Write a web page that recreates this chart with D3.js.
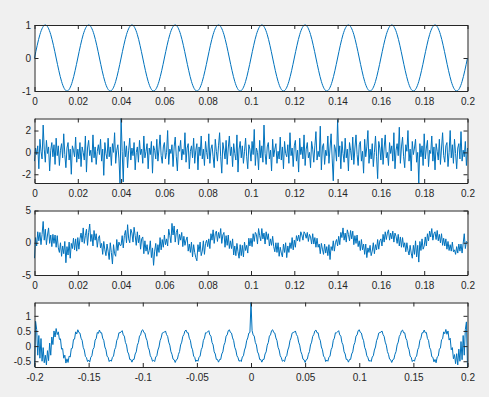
<!DOCTYPE html>
<html><head><meta charset="utf-8">
<script src="https://cdn.jsdelivr.net/npm/d3@7"></script>
<style>
html,body{margin:0;padding:0;background:#f0f0f0;}
svg{display:block;}
text{font-family:"Liberation Sans",Arial,Helvetica,sans-serif;font-size:10px;fill:#262626;}
</style></head>
<body><svg id="c" width="489" height="397"></svg>
<script>
// ---- data ----
const timeTicks = [0,0.02,0.04,0.06,0.08,0.1,0.12,0.14,0.16,0.18,0.2];
const lagTicks = [-0.2,-0.15,-0.1,-0.05,0,0.05,0.1,0.15,0.2];
const sineTicks = [-1,0,1];
const noiseTicks = [-2,0,2];
const noisySineTicks = [-5,0,5];
const acfTicks = [-0.5,0,0.5,1];

const sineStep = 0.0025;
const sineValues = [
0,0.71,1,0.71,0,-0.71,-1,-0.71, 0,0.71,1,0.71,0,-0.71,-1,-0.71,
0,0.71,1,0.71,0,-0.71,-1,-0.71, 0,0.71,1,0.71,0,-0.71,-1,-0.71,
0,0.71,1,0.71,0,-0.71,-1,-0.71, 0,0.71,1,0.71,0,-0.71,-1,-0.71,
0,0.71,1,0.71,0,-0.71,-1,-0.71, 0,0.71,1,0.71,0,-0.71,-1,-0.71,
0,0.71,1,0.71,0,-0.71,-1,-0.71, 0,0.71,1,0.71,0,-0.71,-1,-0.71,
0];

const sampleStep = 0.0005;
const noiseValues = [
-0.8,0.4,-0.2,0.6,-1.5,1.2,0.1,-0.6,2.5,0.3,-0.9,1.1,-0.1,0.5,-1.7,0.2,0.9,-0.4,0.7,-1.1,
1.3,-0.3,0.6,-1.2,0.2,0.8,-0.5,1.7,-0.2,-1.4,0.4,0.9,-0.7,0.3,-2.0,0.6,0.2,-0.4,1.4,-0.9,
0.3,-0.6,0.9,-1.3,0.5,0.0,-0.7,1.5,-1.8,0.4,1.1,-0.3,0.2,-0.9,1.6,-0.5,0.5,-1.1,0.1,0.7,
-0.2,1.2,-0.8,0.3,-2.1,0.9,-0.1,-0.6,1.3,-0.4,0.5,-1.2,0.8,0.0,1.8,-1.0,0.2,0.7,-0.6,-2.8,
3.1,0.1,-2.7,1.0,-0.4,0.6,-1.4,0.2,1.3,-0.7,0.4,-0.3,0.9,-1.6,0.0,0.5,-0.9,1.1,-0.2,0.3,
-1.0,1.5,-0.5,0.1,0.8,-1.5,0.4,-0.2,1.0,-1.9,0.6,0.2,-0.6,1.2,-0.8,0.3,1.6,-0.3,-1.0,0.5,
0.9,-0.6,0.0,2.0,-1.1,0.3,-0.1,0.7,-1.3,0.5,1.4,-0.4,-1.7,0.6,0.1,1.1,-0.7,0.3,-0.2,1.8,
-0.9,0.4,0.8,-1.5,0.1,0.6,-0.5,1.3,-1.0,0.2,0.8,-1.6,0.5,-0.3,1.5,-0.6,0.3,-1.2,1.0,0.0,
-0.6,1.7,-1.0,0.3,0.7,-0.4,-1.4,1.2,0.1,-0.8,0.6,1.8,-0.4,-1.9,0.9,0.2,-0.6,1.1,-1.1,0.4,
1.5,-0.3,0.5,-1.3,0.8,-0.1,-0.7,1.6,-1.8,0.3,1.0,-0.5,0.6,-1.0,0.1,1.3,-0.4,-1.5,0.7,0.3,
-0.8,1.0,-0.2,2.1,-1.2,0.4,0.0,-1.6,1.1,-0.5,0.6,-0.9,2.5,-0.1,-1.1,0.5,0.9,-0.6,0.2,-1.7,
1.2,-0.4,0.3,0.8,-1.0,0.1,-0.6,1.4,-0.7,0.5,-1.5,1.0,-0.1,-0.4,0.7,-1.0,1.8,-0.3,0.4,-1.3,
0.6,1.1,-0.8,0.2,-1.8,1.3,-0.2,0.5,-0.6,1.6,-1.2,0.3,0.9,-0.5,0.0,-1.4,1.0,0.3,-0.9,0.6,
1.9,-0.7,0.1,-0.4,2.4,-1.6,0.5,0.8,-1.1,0.2,-0.3,1.5,-1.0,0.4,1.7,-0.6,-2.6,0.7,0.3,-0.8,
3.0,-0.4,0.6,-1.5,1.0,-0.1,-0.9,1.3,-0.5,0.3,-1.7,0.9,0.2,-0.7,1.4,-1.1,0.4,1.6,-0.2,-1.2,
0.7,1.0,-0.8,0.1,-1.9,1.2,-0.4,0.5,2.0,-1.0,0.3,-0.6,0.8,-1.3,0.0,1.5,-0.4,-2.4,1.0,0.4,
-0.7,1.3,-1.1,0.4,1.6,-0.5,0.0,-1.2,0.9,-0.1,0.6,-0.8,1.8,-1.5,0.2,0.8,-0.3,2.3,-1.0,0.5,
1.4,-0.4,-1.4,0.7,0.1,2.0,-0.8,0.3,-1.7,1.0,-0.2,0.4,1.2,-0.9,0.0,-2.8,0.8,-0.4,0.6,-1.2,
1.7,-0.6,0.4,1.1,-1.3,0.2,-0.1,1.5,-0.8,0.5,-1.6,0.8,0.1,-0.7,1.2,-1.1,0.4,1.8,-0.3,-0.9,
0.6,0.9,-1.3,0.0,2.0,-0.5,0.7,-1.0,1.2,-0.1,-1.5,0.4,0.8,-0.6,1.9,-0.8,0.2,-0.4,1.0,-1.2,
0.4];

const noisySineValues = [
-2.4,0.8,-0.5,1.7,0.3,1.6,-0.3,1.3,3.3,0.4,2.1,-0.3,1.2,2.3,-0.1,1.2,-0.6,1.3,-0.1,1.2,
-0.7,1.1,-0.8,-1.5,0.0,-2.1,-0.5,-1.7,0.2,-3.1,-0.6,-1.9,0.1,-2.4,-0.1,-0.9,0.7,-1.1,0.6,-1.3,
0.8,-1.0,0.6,1.5,0.1,2.3,-0.1,1.1,2.1,-0.4,1.6,2.9,0.2,1.3,-0.5,1.9,0.4,1.4,-0.7,0.7,
1.1,-0.8,-0.1,-1.8,0.2,-1.1,-2.0,-0.2,-1.3,-2.6,0.0,-1.5,-3.3,-0.3,-1.7,-2.1,0.5,-1.2,0.1,-0.4,
-0.4,1.1,-0.8,1.1,1.9,0.0,2.8,0.6,0.0,2.1,1.5,0.1,2.4,1.1,-0.4,1.7,0.0,1.2,-1.0,0.6,
0.9,-1.7,0.3,-1.3,-0.3,-1.8,-1.2,0.3,-2.3,-0.8,-3.5,-1.3,-0.1,-2.1,-0.3,-1.5,0.8,-1.1,0.5,-0.7,
1.2,-0.3,0.6,-0.5,2.1,1.1,0.0,3.0,1.2,2.6,0.1,1.6,2.1,-0.3,1.3,0.4,1.6,-0.6,1.0,-0.4,
0.4,0.9,-1.3,-0.2,-1.5,0.1,-2.2,-0.3,-1.5,-2.3,-2.8,-0.3,-1.4,0.1,-2.0,-1.3,0.3,-1.8,-0.1,0.4,
-0.6,0.6,-0.9,1.4,0.4,2.0,-0.1,1.4,1.8,0.2,1.6,0.7,2.2,-0.1,1.2,1.6,-0.7,1.1,-0.4,1.2,
-0.9,0.3,-0.9,0.6,-1.9,-0.5,-2.0,-0.1,-1.4,-2.4,-0.3,-2.0,-0.4,-2.2,0.1,-1.2,-0.4,-1.6,0.7,-0.5,
0.7,-0.6,1.4,0.2,1.6,1.3,-0.2,2.2,1.1,0.3,2.2,0.6,1.5,-0.2,1.7,0.5,1.4,-0.5,0.6,-0.4,
1.0,-0.6,-1.4,0.0,-1.5,0.0,-2.1,-0.7,-1.6,-2.2,-0.2,-1.5,0.0,-2.3,-0.5,-1.5,0.0,-0.9,0.8,-1.1,
0.4,-0.7,1.1,0.3,1.2,0.2,1.7,1.2,0.4,1.7,1.4,0.7,1.6,0.2,1.3,0.9,-0.2,1.4,-0.2,0.8,
-0.7,0.7,-0.7,-0.2,-1.7,-0.1,-1.0,-1.8,-0.2,-1.6,-0.6,-2.0,-0.3,-2.6,-0.6,-1.2,0.3,-1.3,0.0,0.5,
-0.5,1.0,-0.3,1.6,0.8,2.3,0.4,1.5,0.1,2.0,1.3,0.3,1.9,0.6,1.8,-0.3,1.1,-0.1,1.2,-0.6,
0.3,-1.2,0.5,-1.1,-0.2,-1.8,-0.2,-2.3,-0.8,-1.5,-0.4,-2.0,-1.3,0.0,-1.7,-0.3,-1.1,0.5,-1.0,0.3,
0.6,-0.5,1.3,0.1,1.7,0.5,1.5,2.0,0.4,1.5,0.6,1.8,0.1,1.5,1.0,-0.1,1.3,-0.5,0.9,-0.7,
0.8,-0.7,0.0,-1.4,0.0,-1.2,-1.9,-0.4,-1.6,-2.4,-0.4,-1.8,0.3,-2.2,-0.4,-3.0,0.2,-1.2,0.6,-1.0,
-0.5,0.9,-0.5,1.4,0.3,1.8,0.9,2.2,0.4,1.4,1.7,0.5,1.9,0.3,1.3,0.0,1.4,-0.4,0.7,-0.5,
0.6,-1.0,0.2,-1.2,-0.3,-1.3,0.1,-1.4,-1.1,-1.8,-0.6,-1.6,-0.2,-1.3,-0.2,-1.6,-0.1,1.4,-0.9,0.2,
0.0];

const lagStart = -0.2, lagStep = 0.001;
const acfValues = [
-0.69,0.82,0.55,-0.30,0.35,-0.40,0.25,-0.50,-0.05,-0.55,-0.30,-0.62,-0.15,-0.48,0.10,-0.30,0.30,0.05,0.50,0.30,
0.58,0.38,0.47,0.22,0.24,-0.10,-0.08,-0.40,-0.30,-0.56,-0.42,-0.54,-0.33,-0.36,-0.08,-0.07,0.22,0.23,0.47,0.40,
0.54,0.45,0.43,0.26,0.19,-0.04,-0.13,-0.34,-0.38,-0.51,-0.46,-0.53,-0.37,-0.32,-0.11,-0.05,0.20,0.25,0.45,0.42,
0.53,0.44,0.44,0.26,0.19,-0.03,-0.12,-0.33,-0.37,-0.51,-0.46,-0.50,-0.37,-0.33,-0.12,-0.04,0.19,0.26,0.44,0.44,
0.47,0.51,0.37,0.33,0.12,0.04,-0.19,-0.26,-0.44,-0.44,-0.53,-0.44,-0.44,-0.26,-0.19,0.03,0.12,0.33,0.37,0.51,
0.54,0.45,0.43,0.27,0.18,-0.04,-0.13,-0.32,-0.38,-0.50,-0.47,-0.51,-0.36,-0.32,-0.13,-0.03,0.18,0.27,0.43,0.45,
0.46,0.50,0.38,0.32,0.13,0.03,-0.18,-0.27,-0.43,-0.45,-0.54,-0.45,-0.43,-0.27,-0.18,0.04,0.13,0.32,0.38,0.50,
0.53,0.44,0.44,0.26,0.19,-0.03,-0.12,-0.33,-0.37,-0.51,-0.46,-0.50,-0.37,-0.33,-0.12,-0.04,0.19,0.26,0.44,0.44,
0.47,0.51,0.37,0.33,0.12,0.04,-0.19,-0.26,-0.44,-0.44,-0.53,-0.44,-0.44,-0.26,-0.19,0.03,0.12,0.33,0.37,0.51,
0.54,0.45,0.43,0.27,0.18,-0.04,-0.13,-0.32,-0.38,-0.50,-0.47,-0.51,-0.36,-0.32,-0.13,-0.03,0.18,0.27,0.43,0.45,
1.44,0.51,0.37,0.33,0.12,0.04,-0.19,-0.26,-0.44,-0.44,-0.53,-0.44,-0.44,-0.26,-0.19,0.03,0.12,0.33,0.37,0.51,
0.54,0.45,0.43,0.27,0.18,-0.04,-0.13,-0.32,-0.38,-0.50,-0.47,-0.51,-0.36,-0.32,-0.13,-0.03,0.18,0.27,0.43,0.45,
0.46,0.50,0.38,0.32,0.13,0.03,-0.18,-0.27,-0.43,-0.45,-0.54,-0.45,-0.43,-0.27,-0.18,0.04,0.13,0.32,0.38,0.50,
0.53,0.44,0.44,0.26,0.19,-0.03,-0.12,-0.33,-0.37,-0.51,-0.46,-0.50,-0.37,-0.33,-0.12,-0.04,0.19,0.26,0.44,0.44,
0.47,0.51,0.37,0.33,0.12,0.04,-0.19,-0.26,-0.44,-0.44,-0.53,-0.44,-0.44,-0.26,-0.19,0.03,0.12,0.33,0.37,0.51,
0.54,0.45,0.43,0.27,0.18,-0.04,-0.13,-0.32,-0.38,-0.50,-0.47,-0.51,-0.36,-0.32,-0.13,-0.03,0.18,0.27,0.43,0.45,
0.46,0.50,0.38,0.32,0.13,0.03,-0.18,-0.27,-0.43,-0.45,-0.54,-0.45,-0.43,-0.27,-0.18,0.04,0.13,0.32,0.38,0.50,
0.53,0.44,0.44,0.26,0.19,-0.03,-0.12,-0.33,-0.37,-0.51,-0.46,-0.50,-0.37,-0.33,-0.12,-0.04,0.19,0.26,0.44,0.44,
0.53,0.44,0.45,0.25,0.19,-0.05,-0.12,-0.35,-0.37,-0.52,-0.44,-0.55,-0.36,-0.33,-0.10,-0.06,0.21,0.24,0.47,0.41,
0.55,0.39,0.50,0.20,0.26,-0.12,-0.05,-0.42,-0.28,-0.58,-0.25,-0.62,-0.10,-0.50,0.15,-0.45,0.35,-0.30,0.55,0.80,
-0.69];

// ---- layout ----
const W = 489, H = 397;
const left = 34.5, right = 467.5;
const panels = [
  {top:25, bottom:91, values:sineValues, step:sineStep, start:0, xDomain:[0,0.2], xTicks:timeTicks, yDomain:[-1,1], yTicks:sineTicks, curve:d3.curveNatural},
  {top:118.5, bottom:183, values:noiseValues, step:sampleStep, start:0, xDomain:[0,0.2], xTicks:timeTicks, yDomain:d3.extent(noiseValues), yTicks:noiseTicks, curve:d3.curveLinear},
  {top:210.5, bottom:275, values:noisySineValues, step:sampleStep, start:0, xDomain:[0,0.2], xTicks:timeTicks, yDomain:[-5,5], yTicks:noisySineTicks, curve:d3.curveLinear},
  {top:302.5, bottom:367, values:acfValues, step:lagStep, start:lagStart, xDomain:[-0.2,0.2], xTicks:lagTicks, yDomain:d3.extent(acfValues), yTicks:acfTicks, curve:d3.curveLinear}
];

const svg = d3.select("#c");
svg.append("rect").attr("width",W).attr("height",H).attr("fill","#f0f0f0");
const axisColor = "#262626";
const fmt = d => String(d);

panels.forEach(p => {
  const x = d3.scaleLinear().domain(p.xDomain).range([left, right]);
  const y = d3.scaleLinear().domain(p.yDomain).range([p.bottom, p.top]);
  const g = svg.append("g");
  g.append("rect").attr("x",left).attr("y",p.top).attr("width",right-left).attr("height",p.bottom-p.top).attr("fill","#fff");

  const line = d3.line().x((d,i)=>x(p.start + i*p.step)).y(d=>y(d)).curve(p.curve);
  g.append("path").datum(p.values).attr("d",line).attr("fill","none")
    .attr("stroke","#0072bd").attr("stroke-width",1).attr("stroke-linejoin","round");

  const styleAxis = sel => {
    sel.selectAll("path.domain").attr("stroke",axisColor);
    sel.selectAll(".tick line").attr("stroke",axisColor);
    sel.selectAll(".tick text").attr("fill",axisColor).style("font-size","10px")
      .style("font-family","'Liberation Sans',Arial,Helvetica,sans-serif");
  };
  g.append("g").attr("transform",`translate(0,${p.bottom})`)
    .call(d3.axisBottom(x).tickValues(p.xTicks).tickFormat(fmt).tickSizeInner(-4).tickSizeOuter(0).tickPadding(6.5))
    .call(styleAxis);
  g.append("g").attr("transform",`translate(0,${p.top})`)
    .call(d3.axisTop(x).tickValues(p.xTicks).tickFormat("").tickSizeInner(-4).tickSizeOuter(0))
    .call(styleAxis);
  g.append("g").attr("transform",`translate(${left},0)`)
    .call(d3.axisLeft(y).tickValues(p.yTicks).tickFormat(fmt).tickSizeInner(-4).tickSizeOuter(0).tickPadding(3.5))
    .call(styleAxis);
  g.append("g").attr("transform",`translate(${right},0)`)
    .call(d3.axisRight(y).tickValues(p.yTicks).tickFormat("").tickSizeInner(-4).tickSizeOuter(0))
    .call(styleAxis);
});
</script></body></html>
